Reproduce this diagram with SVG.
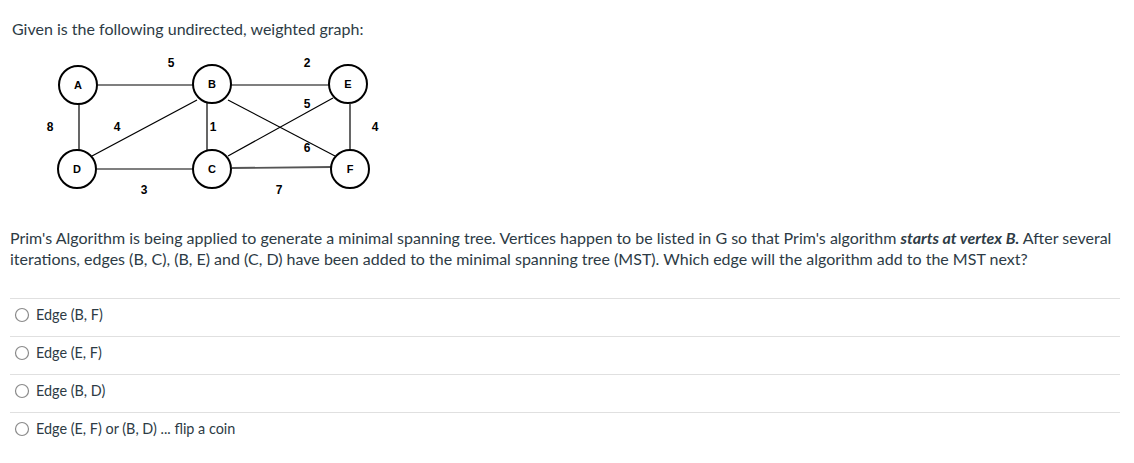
<svg xmlns="http://www.w3.org/2000/svg" width="1134" height="463" viewBox="0 0 1134 463">
<style>
.t{font-family:Lato,"Liberation Sans",sans-serif;fill:#2d3b45;font-size:16px}
.o{font-family:Lato,"Liberation Sans",sans-serif;fill:#2d3b45;font-size:14.4px}
.n circle{fill:#fff;stroke:#000;stroke-width:2}
.n text{font-family:"Liberation Sans",Arial,sans-serif;font-weight:bold;font-size:11px;text-anchor:middle;fill:#000}
.w{font-family:"Liberation Sans",Arial,sans-serif;font-weight:bold;font-size:12px;text-anchor:middle;fill:#000}
.e line{stroke:#000;stroke-width:1.2}
.sep{stroke:#e0e0e0;stroke-width:1}
.r{fill:#fff;stroke:#8a8a8a;stroke-width:1.2}
</style>
<rect width="1134" height="463" fill="#fff"/>
<text class="t" x="12" y="35">Given is the following undirected, weighted graph:</text>
<g id="edges" class="e">
<line x1="98" y1="85" x2="193" y2="85"/>
<line x1="79" y1="104" x2="79" y2="150"/>
<line x1="197" y1="100" x2="92" y2="156"/>
<line x1="97" y1="169" x2="193" y2="169"/>
<line x1="207" y1="103" x2="207" y2="151"/>
<line x1="231" y1="85" x2="329" y2="85"/>
<line x1="228" y1="100" x2="335" y2="156"/>
<line x1="228" y1="156" x2="333" y2="98"/>
<line x1="350" y1="104" x2="350" y2="150"/>
<line x1="232" y1="168" x2="331" y2="167" style="stroke:#555;stroke-width:1.8"/>
</g>
<g id="weights">
<text class="w" x="171" y="67">5</text>
<text class="w" x="50" y="131">8</text>
<text class="w" x="117" y="131">4</text>
<text class="w" x="213" y="131">1</text>
<text class="w" x="144" y="194">3</text>
<text class="w" x="307" y="67">2</text>
<text class="w" x="307" y="108">5</text>
<text class="w" x="307" y="152">6</text>
<text class="w" x="375" y="131">4</text>
<text class="w" x="279" y="194">7</text>
</g>
<g id="A" class="n"><circle cx="78" cy="85" r="19"/><text x="78" y="89">A</text></g>
<g id="B" class="n"><circle cx="212" cy="84" r="19"/><text x="212" y="88">B</text></g>
<g id="E" class="n"><circle cx="348" cy="84" r="19"/><text x="348" y="88">E</text></g>
<g id="D" class="n"><circle cx="77" cy="169" r="19"/><text x="77" y="173">D</text></g>
<g id="C" class="n"><circle cx="212" cy="169" r="19"/><text x="212" y="173">C</text></g>
<g id="F" class="n"><circle cx="350" cy="169" r="19"/><text x="350" y="173">F</text></g>
<text class="t" x="10" y="244">Prim's Algorithm is being applied to generate a minimal spanning tree. Vertices happen to be listed in G so that Prim's algorithm <tspan font-weight="bold" font-style="italic">starts at vertex B.</tspan> After several</text>
<text class="t" x="10" y="265">iterations, edges (B, C), (B, E) and (C, D) have been added to the minimal spanning tree (MST). Which edge will the algorithm add to the MST next?</text>
<line class="sep" x1="10" y1="298.5" x2="1120" y2="298.5"/>
<line class="sep" x1="10" y1="336.5" x2="1120" y2="336.5"/>
<line class="sep" x1="10" y1="374.5" x2="1120" y2="374.5"/>
<line class="sep" x1="10" y1="412.5" x2="1120" y2="412.5"/>
<circle class="r" cx="22" cy="315" r="6.5"/>
<circle class="r" cx="22" cy="353" r="6.5"/>
<circle class="r" cx="22" cy="391" r="6.5"/>
<circle class="r" cx="22" cy="429" r="6.5"/>
<text class="o" x="36" y="320">Edge (B, F)</text>
<text class="o" x="36" y="358">Edge (E, F)</text>
<text class="o" x="36" y="396">Edge (B, D)</text>
<text class="o" x="36" y="434">Edge (E, F) or (B, D) ... flip a coin</text>
</svg>
